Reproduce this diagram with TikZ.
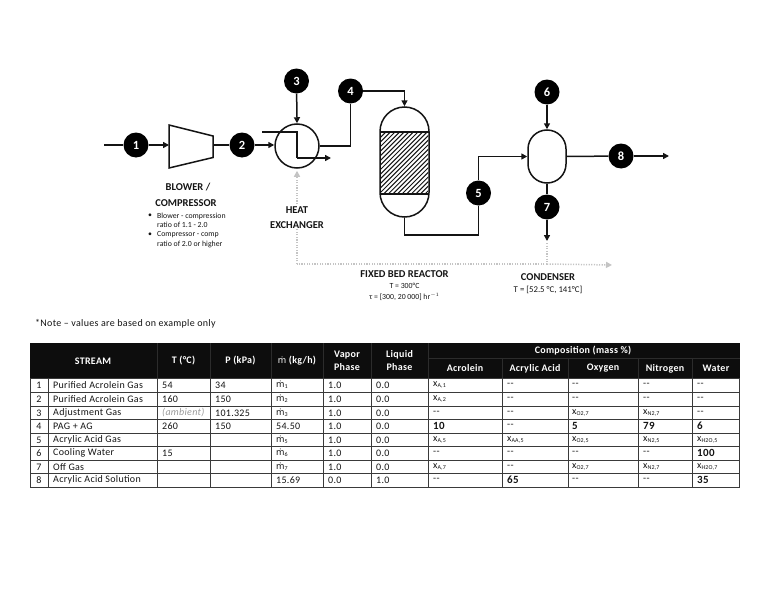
\documentclass[tikz,border=0pt]{standalone}
\usepackage{fontspec}
\setmainfont{Carlito}
\newfontfamily\mfont[Scale=0.9]{Noto Sans}
\usetikzlibrary{arrows.meta,shapes.geometric,calc}
\definecolor{ink}{HTML}{141414}
\definecolor{grid}{HTML}{3A3A3A}
\definecolor{headgrid}{HTML}{2C2C2C}
\definecolor{dots}{HTML}{C4C4C4}
\newcommand{\dd}{-{}-}
\newcommand{\mdot}{{\mfont ṁ}}
\newcommand{\XX}[1]{x{\fontsize{6}{6}\selectfont\raisebox{-1pt}{#1}}}
\newcommand{\MM}[1]{\mdot{\fontsize{6}{6}\selectfont\raisebox{-1pt}{#1}}}
\newcommand{\BB}[1]{\textbf{\fontsize{11}{11}\selectfont #1}}
\newcommand{\cellat}[4]{\def\tmpcell{#4}\ifx\tmpcell\empty\else\node[cellbox] (#1) at (#2,#3) {#4};\fi}
\newcommand{\trow}[8]{%
  \node[cellbox,anchor=center] (n#1) at (39,#2) {#1};
  \cellat{s#1}{53}{#2}{#3}\cellat{t#1}{162}{#2}{#4}\cellat{p#1}{215}{#2}{#5}%
  \cellat{m#1}{276}{#2}{#6}\cellat{v#1}{328}{#2}{#7}\cellat{l#1}{376}{#2}{#8}}
\newcommand{\crow}[7]{%
  \cellat{ca#1}{433}{#2}{#3}\cellat{cb#1}{507}{#2}{#4}\cellat{cc#1}{572}{#2}{#5}%
  \cellat{cd#1}{643}{#2}{#6}\cellat{ce#1}{697}{#2}{#7}}
\tikzset{
  pipe/.style={line width=1.5pt,draw=ink},
  flow/.style={pipe,-{Triangle[length=6pt,width=6pt]}},
  unit/.style={draw=ink,line width=1.5pt,inner sep=0pt,fill=white},
  stream/.style={circle,fill=black,text=white,minimum size=25pt,inner sep=0pt,font=\fontsize{12.5}{13}\selectfont\bfseries},
  utility/.style={draw=dots,line width=1.5pt,dash pattern=on 1.2pt off 1.4pt},
  title/.style={font=\fontsize{10.5}{11}\selectfont\bfseries,text=ink,inner sep=0.5pt},
  small/.style={font=\fontsize{7.8}{9}\selectfont,text=ink,inner sep=0pt},
  cellbox/.style={anchor=west,inner sep=0pt,font=\fontsize{10}{11}\selectfont\addfontfeatures{LetterSpace=3},text=ink},
  headbox/.style={inner sep=0pt,align=center,text=white,font=\fontsize{10}{13}\selectfont\bfseries\addfontfeatures{LetterSpace=3}},
  rule/.style={draw=grid,line width=1pt},
}
\begin{document}
\begin{tikzpicture}[x=1pt,y=-1pt]
\useasboundingbox (0,0) rectangle (768,594);
% ---------- equipment
\coordinate (compw) at (169,146.5);
\coordinate (compe) at (213,146.5);
\draw[unit] (169,125) -- (213,136) -- (213,157.5) -- (169,168) -- cycle;
\node[unit,circle,minimum size=44pt] (hx) at (297,146) {};
\node[unit,rectangle,rounded corners=24.5pt,minimum width=49pt,minimum height=110pt] (reactor) at (404.5,162) {};
\node[unit,rectangle,rounded corners=19pt,minimum width=38pt,minimum height=53pt] (cond) at (547,156.5) {};
% catalyst packing
\begin{scope}
\clip (380.7,132) rectangle (428.3,194);
\foreach \k in {-70,-65.4,...,60} \draw[ink,line width=1pt] (376+\k,198) -- (376+\k+70,128);
\end{scope}
\draw[unit,fill=none] (380,132) -- (429,132) (380,194) -- (429,194);
% ---------- stream bubbles
\node[stream] (s1) at (136,145) {1};
\node[stream] (s2) at (242,145) {2};
\node[stream] (s3) at (296.5,81) {3};
\node[stream] (s4) at (350.5,91) {4};
\node[stream] (s5) at (478.5,193) {5};
\node[stream] (s6) at (547,92) {6};
\node[stream] (s7) at (547,207) {7};
\node[stream] (s8) at (621,156) {8};
\coordinate (feed) at (104,145);
\coordinate (tubein) at (262,132);
\coordinate (tubea) at (297,132);
\coordinate (tubeb) at (297,158);
\coordinate (tubeout) at (331,158);
\coordinate (prod) at (669,156);
\coordinate (offgas) at (547,241);
\coordinate (bottom) at (404.5,235);
\coordinate (heatdot) at (297,264);
\coordinate (corner) at (547,264);
\coordinate (dotstart) at (547,243);
\coordinate (dotend) at (612,265);
% ---------- utility line
\draw[utility] (corner) -- (heatdot);
\draw[utility,-{Triangle[length=6pt,width=6pt]}] (heatdot) -- ($(hx.south)+(0,2)$);
\draw[utility] (dotstart) -- (corner);
\draw[utility,-{Triangle[length=6pt,width=6pt]}] (corner) -- (dotend);
% ---------- connectors
\draw[pipe] (feed) -- (s1);
\draw[flow] (s1) -- (compw |- s1);
\draw[pipe] (compe |- s2) -- (s2);
\draw[flow] (s2) -- (hx.west |- s2);
\draw[flow] (s3) -- (hx.north);
\draw[pipe] (tubein) -- (tubea) -- (tubeb);
\draw[flow] (tubeb) -- (tubeout);
\draw[pipe] (hx.east) -| (s4);
\draw[flow] (s4) -| (reactor.north);
\draw[pipe] (reactor.south) |- (bottom) -| (s5);
\draw[flow] (s5) |- (cond.west);
\draw[flow] (s6) -- (cond.north);
\draw[pipe] (cond.south) -- (s7);
\draw[flow] (s7) -- (offgas);
\draw[pipe] (cond.east) -- (s8);
\draw[flow] (s8) -- (prod);
% ---------- labels
\node[title] (lb1) at (188,187) {BLOWER /};
\node[title] (lb2) at (186,203) {COMPRESSOR};
\node[small,anchor=west] (bu1) at (148,216) {•};
\node[small,anchor=west] (tx1) at (157,216) {Blower - compression};
\node[small,anchor=west] (tx2) at (157,225) {ratio of 1.1 - 2.0};
\node[small,anchor=west] (bu2) at (148,234.5) {•};
\node[small,anchor=west] (tx3) at (157,234.5) {Compressor - comp};
\node[small,anchor=west] (tx4) at (157,244) {ratio of 2.0 or higher};
\node[title,fill=white,align=center,font=\fontsize{10.5}{15}\selectfont\bfseries] (lh) at (297,217.5) {HEAT\\EXCHANGER};
\node[title] (lr) at (404.5,274) {FIXED BED REACTOR};
\node[small] (lr1) at (404.5,286) {T = 300°C};
\node[small] (lr2) at (404.5,297) {τ = [300, 20 000] hr$^{-1}$};
\node[title] (lc) at (548,277) {CONDENSER};
\node[small,font=\fontsize{8.8}{9}\selectfont] (lc1) at (548,290) {T = [52.5 °C, 141°C]};
\node[cellbox] (note) at (35,324) {*Note -- values are based on example only};
% ---------- table header
\fill[black!95] (30,343) rectangle (739.5,378);
\foreach \x in {157,210,271,323,371,428} \draw[headgrid,line width=0.6pt] (\x,343) -- (\x,378);
\foreach \x in {502,568,638,692} \draw[headgrid,line width=0.6pt] (\x,358) -- (\x,378);
\draw[headgrid,line width=0.6pt] (428,358) -- (739.5,358);
\node[headbox] (hs) at (93,361) {STREAM};
\node[headbox] (ht) at (183.5,361) {T (°C)};
\node[headbox] (hp) at (240.5,361) {P (kPa)};
\node[headbox] (hm) at (297,361) {\mdot{} (kg/h)};
\node[headbox] (hv) at (347,360.5) {Vapor\\Phase};
\node[headbox] (hl) at (399.5,360.5) {Liquid\\Phase};
\node[headbox] (hc) at (583,351) {Composition (mass \%)};
\node[headbox] (h1) at (465,368.5) {Acrolein};
\node[headbox] (h2) at (535,368.5) {Acrylic Acid};
\node[headbox] (h3) at (603,368.5) {Oxygen};
\node[headbox] (h4) at (665,368.5) {Nitrogen};
\node[headbox] (h5) at (716,368.5) {Water};
% ---------- table grid
\foreach \y in {378,392,406,419.5,433,446.5,460,473.5,487} \draw[rule] (30,\y) -- (739.5,\y);
\foreach \x in {30,48,157,210,271,323,371,428,502,568,638,692,739.5} \draw[rule] (\x,378) -- (\x,487);
% ---------- table rows
\trow{1}{385}{Purified Acrolein Gas}{54}{34}{\MM{1}}{1.0}{0.0}
\crow{1}{385}{\XX{A,1}}{\dd}{\dd}{\dd}{\dd}
\trow{2}{399}{Purified Acrolein Gas}{160}{150}{\MM{2}}{1.0}{0.0}
\crow{2}{399}{\XX{A,2}}{\dd}{\dd}{\dd}{\dd}
\trow{3}{413}{Adjustment Gas}{\textcolor{black!40}{\textit{(ambient)}}}{101.325}{\MM{3}}{1.0}{0.0}
\crow{3}{413}{\dd}{\dd}{\XX{O2,7}}{\XX{N2,7}}{\dd}
\trow{4}{426}{PAG + AG}{260}{150}{54.50}{1.0}{0.0}
\crow{4}{426}{\BB{10}}{\dd}{\BB{5}}{\BB{79}}{\BB{6}}
\trow{5}{440}{Acrylic Acid Gas}{}{}{\MM{5}}{1.0}{0.0}
\crow{5}{440}{\XX{A,5}}{\XX{AA,5}}{\XX{O2,5}}{\XX{N2,5}}{\XX{H2O,5}}
\trow{6}{453}{Cooling Water}{15}{}{\MM{6}}{1.0}{0.0}
\crow{6}{453}{\dd}{\dd}{\dd}{\dd}{\BB{100}}
\trow{7}{467}{Off Gas}{}{}{\MM{7}}{1.0}{0.0}
\crow{7}{467}{\XX{A,7}}{\dd}{\XX{O2,7}}{\XX{N2,7}}{\XX{H2O,7}}
\trow{8}{480}{Acrylic Acid Solution}{}{}{15.69}{0.0}{1.0}
\crow{8}{480}{\dd}{\BB{65}}{\dd}{\dd}{\BB{35}}
\end{tikzpicture}
\end{document}
